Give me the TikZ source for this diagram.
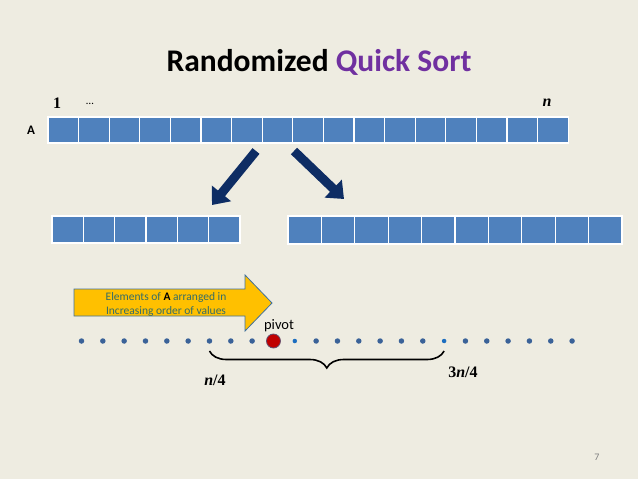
\documentclass[tikz,border=0pt]{standalone}
\usepackage[no-math]{fontspec}
\setmainfont{Carlito}
\newfontfamily\mathlike{Liberation Serif}
\usetikzlibrary{decorations.pathreplacing,arrows.meta,positioning}

\definecolor{slidebg}{RGB}{238,236,225}
\definecolor{cellblue}{RGB}{79,129,189}
\definecolor{navyarrow}{RGB}{14,45,100}
\definecolor{titlepurple}{RGB}{112,48,160}
\definecolor{goldarrow}{RGB}{255,192,0}
\definecolor{arrowedge}{RGB}{65,113,156}
\definecolor{noteteal}{RGB}{52,108,104}
\definecolor{dotblue}{RGB}{58,98,152}
\definecolor{brightdot}{RGB}{28,110,192}
\definecolor{pivotred}{RGB}{192,0,0}

\newcommand{\varn}{\textit{n}}

\tikzset{
  cell/.style={draw=white, line width=1.2pt, fill=cellblue},
  splitarrow/.style={draw=navyarrow, line width=9pt, -{Triangle[width=24pt,length=15pt]}},
  dot/.style={circle, fill=dotblue, inner sep=0pt, minimum size=5.5pt},
  smalldot/.style={circle, fill=brightdot, inner sep=0pt, minimum size=4.5pt},
  pivotdot/.style={circle, fill=pivotred, draw=arrowedge!70!pivotred, line width=0.8pt, inner sep=0pt, minimum size=14pt},
  bracket/.style={decorate, decoration={brace, mirror, amplitude=17pt}, line width=1.6pt},
  mathlbl/.style={font=\fontsize{16}{18}\selectfont\mathlike\bfseries},
}

\begin{document}
\begin{tikzpicture}[x=1pt,y=-1pt]
\fill[slidebg] (0,0) rectangle (638,479);
\useasboundingbox (0,0) rectangle (638,479);

% title
\node (title) at (319,62) {\fontsize{31.5}{36}\selectfont\bfseries Randomized \textcolor{titlepurple}{Quick Sort}};

% whole array A
\foreach \i in {0,...,16}
  \draw[cell] ({48+30.6*\i},117) rectangle ++(30.6,26);
\node (lblA) at (31,130) {\fontsize{13}{15}\selectfont\bfseries A};
\node[mathlbl] (first) at (57,103) {1};
\node (dots) at (90,104) {\fontsize{11}{12}\selectfont\dots};
\node[mathlbl] (last) at (547,103) {\varn};

% split arrows
\coordinate (ltail) at (256,151);
\coordinate (ltip) at (212,205);
\coordinate (rtail) at (294,151);
\coordinate (rtip) at (344,199);
\draw[splitarrow] (ltail) -- (ltip);
\draw[splitarrow] (rtail) -- (rtip);

% the two parts
\foreach \i in {0,...,5}
  \draw[cell] ({52+31.33*\i},216) rectangle ++(31.33,27);
\foreach \i in {0,...,9}
  \draw[cell] ({288+33.4*\i},216) rectangle ++(33.4,28);

% sorted order arrow
\draw[fill=goldarrow, draw=arrowedge, line width=0.8pt]
  (74,289) -- (245,289) -- (245,275) -- (272,303) -- (245,331) -- (245,316) -- (74,316) -- cycle;
\node[text=noteteal, align=center, font=\fontsize{11.5}{14}\selectfont] (note) at (166,304)
  {Elements of \textcolor{black}{\textbf{A}} arranged in\\Increasing order of values};

% elements as dots
\foreach \i in {0,1,2,3,4,5,6,7,8,11,12,13,14,15,16,18,19,20,21,22,23}
  \node[dot] (d\i) at ({81.5+21.33*\i},341) {};
\foreach \i in {10,17}
  \node[smalldot] (d\i) at ({81.5+21.33*\i},341) {};
\node[pivotdot] (pivot) at ({81.5+21.33*9},341) {};
\node[font=\fontsize{14.5}{16}\selectfont] (pivotlbl) at (279,326) {pivot};

% middle half
\draw[bracket] ([yshift=-10pt]d6.center) -- ([yshift=-10pt]d17.center);
\node[mathlbl] (quarter) at (215,380) {\varn/4};
\node[mathlbl] (threequarter) at (463,372) {3\varn/4};

\node[text=gray, font=\fontsize{10}{12}\selectfont] (pagenum) at (597,457) {7};
\end{tikzpicture}
\end{document}
